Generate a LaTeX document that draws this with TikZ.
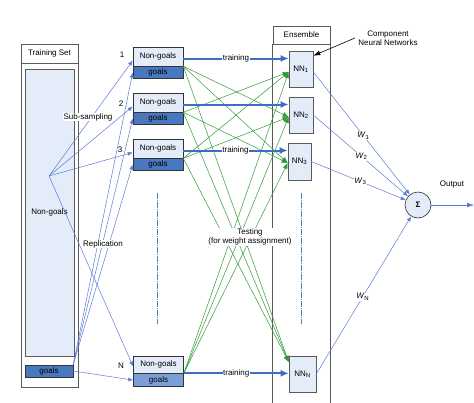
\documentclass[tikz,border=0pt]{standalone}
\usepackage{fontspec}
\setmainfont{Liberation Sans}
\usetikzlibrary{arrows.meta,calc}
\definecolor{boxfill}{HTML}{E3ECF8}
\definecolor{goalfill}{HTML}{4A78C0}
\definecolor{goalfillN}{HTML}{7C9ED6}
\definecolor{thinblue}{HTML}{5A7BD8}
\definecolor{thickblue}{HTML}{3E6EC2}
\definecolor{grn}{HTML}{2F9A35}
\definecolor{framegray}{HTML}{5A5A5A}
\tikzset{
  ngbox/.style={draw=black!80, fill=boxfill, minimum width=50pt, minimum height=19pt, inner sep=0pt, line width=0.6pt},
  glbox/.style={draw=black!80, fill=goalfill, minimum width=50pt, minimum height=12pt, inner sep=0pt, line width=0.6pt},
  nnbox/.style={draw=framegray, fill=boxfill, minimum width=24pt, minimum height=36pt, inner sep=0pt, line width=0.6pt},
  frame/.style={draw=framegray, line width=0.8pt},
  thinarr/.style={draw=thinblue, line width=0.5pt, -{Latex[length=5pt,width=4pt]}},
  trainarr/.style={draw=thickblue, line width=2pt, -{Latex[length=8pt,width=7pt]}},
  testarr/.style={draw=grn, line width=0.5pt, -{Latex[length=6pt,width=5pt]}},
  lbl/.style={fill=white, inner sep=0.6pt},
  dashdot/.style={draw=thinblue, line width=0.6pt, dash pattern=on 6pt off 1pt on 1pt off 1pt}
}
\begin{document}
\begin{tikzpicture}[x=1pt,y=-1pt,font=\fontsize{8}{9.5}\selectfont]
\useasboundingbox (0,0) rectangle (474,402);

% Training set
\node[frame, minimum width=57pt, minimum height=343pt, inner sep=0pt] (tsout) at (49.5,215.5) {};
\node[frame, minimum width=57pt, minimum height=19pt, inner sep=0pt] (tstitle) at (49.5,53.5) {Training Set};
\node[draw=framegray, line width=0.6pt, fill=boxfill, minimum width=49pt, minimum height=287pt, inner sep=0pt] (tsng) at (49.5,212.5) {Non-goals};
\node[draw=black!80, fill=goalfill, minimum width=48pt, minimum height=12pt, inner sep=0pt] (tsg) at (49,371) {goals};

% Ensemble frame
\node[frame, minimum width=57pt, minimum height=18pt, inner sep=0pt] (enstitle) at (301.5,35) {Ensemble};
\draw[frame] (enstitle.south west) -- ++(0,360);
\draw[frame] (enstitle.south east) -- ++(0,360);

% Stage boxes
\node[ngbox] (ng1) at (158,56.5) {Non-goals};
\node[glbox, anchor=north] (g1) at (ng1.south) {goals};
\node[ngbox] (ng2) at (158,102.5) {Non-goals};
\node[glbox, anchor=north] (g2) at (ng2.south) {goals};
\node[ngbox] (ng3) at (158,148.5) {Non-goals};
\node[glbox, anchor=north] (g3) at (ng3.south) {goals};
\node[ngbox, minimum height=17pt] (ngN) at (158.5,364.5) {Non-goals};
\node[glbox, fill=goalfillN, minimum height=13pt, anchor=north] (gN) at (ngN.south) {goals};

\node (l1) at (122,55) {1};
\node (l2) at (121,104) {2};
\node (l3) at (120,150) {3};
\node (lN) at (121,366) {N};

% NN boxes
\node[nnbox] (nn1) at (301,69) {NN\textsubscript{1}};
\node[nnbox] (nn2) at (301,115) {NN\textsubscript{2}};
\node[nnbox, minimum width=23pt, minimum height=37pt] (nn3) at (299.5,161.5) {NN\textsubscript{3}};
\node[nnbox, minimum width=27pt] (nnN) at (302.5,374) {NN\textsubscript{N}};

% Sigma and output
\node[circle, draw=black!80, fill=boxfill, minimum size=26pt, inner sep=0pt, line width=0.6pt] (sig) at (418,205) {\bfseries Σ};
\coordinate (outp) at (474,205);
\node (outlbl) at (452,185) {Output};
\node[align=center, font=\fontsize{8}{9}\selectfont] (cnn) at (388,38) {Component\\Neural Networks};

% dash-dot placeholders
\draw[dashdot] (157,193) -- (157,324);
\draw[dashdot] (301,193) -- (301,324);

% Sub-sampling lines
\coordinate (src) at (49,176);
\foreach \b in {ng1,ng2,ng3} \draw[thinarr] (src) -- ([yshift=-4pt]\b.west);
\draw[thinarr] (src) -- ([yshift=-2pt]ngN.west);
% Replication lines
\foreach \b in {g1,g2,g3} \draw[thinarr] (tsg.north east) -- (\b.west);
\draw[thinarr] (tsg.east) -- (gN.west);
\node[lbl] (subs) at (88,117) {Sub-sampling};
\node[lbl] (repl) at (103,244) {Replication};

% Testing lines
\foreach \s/\t/\d in {ng1/nn2/-2, ng1/nn3/-1.5, ng1/nnN/12,
                      ng2/nn1/-3, ng2/nn3/-1.5, ng2/nnN/12,
                      ng3/nn1/-3, ng3/nn2/-2, ng3/nnN/12,
                      ngN/nn1/-3, ngN/nn2/-2, ngN/nn3/-1.5}
  \draw[testarr] (\s.south east) -- ([yshift=\d pt]\t.west);
\node[lbl, align=center] (testlbl) at (250,237) {Testing\\(for weight assignment)};

% Training arrows
\draw[trainarr] ([yshift=-2pt]ng1.east) -- ([yshift=-2pt]ng1.east -| nn1.west) node[midway, lbl] {training};
\draw[trainarr] ([yshift=-2pt]ng2.east) -- ([yshift=-2pt]ng2.east -| nn2.west);
\draw[trainarr] ([yshift=-2pt]ng3.east) -- ([yshift=-2pt]ng3.east -| nn3.west) node[midway, lbl] {training};
\draw[trainarr] (ngN.south east) -- (ngN.south east -| nnN.west) node[midway, lbl] {training};

% Weights
\draw[thinarr] ([yshift=-3pt]nn1.east) -- (sig) node[pos=0.52, lbl] {\textit{W}\textsubscript{1}};
\draw[thinarr] (nn2.east) -- (sig) node[pos=0.51, lbl] {\textit{W}\textsubscript{2}};
\draw[thinarr] (nn3.east) -- (sig) node[pos=0.52, lbl] {\textit{W}\textsubscript{3}};
\draw[thinarr] (nnN.east) -- (sig) node[pos=0.49, lbl] {\textit{W}\textsubscript{N}};
\draw[thinarr, line width=0.8pt, -{Latex[length=7pt,width=5pt]}] (sig) -- (outp);

% Component arrow
\draw[line width=0.6pt, -{Latex[length=7pt,width=5pt]}] (cnn.west) -- ([yshift=-5pt]nn1.north east);
\end{tikzpicture}
\end{document}
